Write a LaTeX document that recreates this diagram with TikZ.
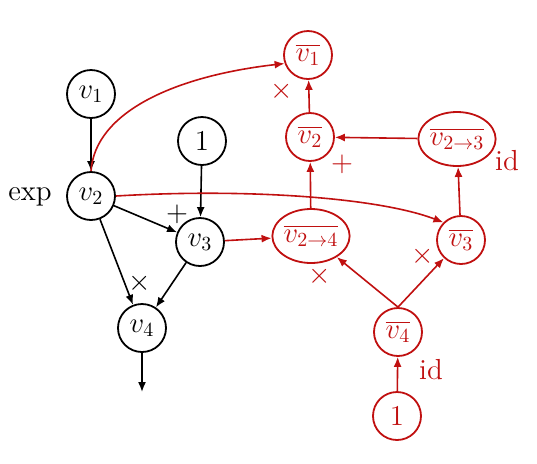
\documentclass[tikz,border=0pt]{standalone}
\usetikzlibrary{arrows.meta,shapes.geometric}
\definecolor{adjred}{RGB}{192,16,16}
\begin{document}
\begin{tikzpicture}[x=0.5pt,y=-0.5pt,
  font=\fontsize{14.5}{17}\selectfont,
  var/.style={circle,draw,line width=0.9pt,minimum size=24pt,inner sep=0pt},
  rvar/.style={var,draw=adjred,text=adjred},
  rell/.style={ellipse,draw=adjred,text=adjred,line width=0.9pt,minimum width=33pt,minimum height=27pt,inner sep=0pt},
  edge/.style={line width=0.8pt,-{Latex[length=5pt,width=4pt]}},
  redge/.style={edge,draw=adjred},
  lab/.style={inner sep=0pt},
  rlab/.style={lab,text=adjred}]
\useasboundingbox (0,0) rectangle (537,463);
% forward graph
\node[var] (v1) at (91,94) {$v_1$};
\node[var] (v2) at (91,196) {$v_2$};
\node[var] (one) at (202,141) {$1$};
\node[var] (v3) at (200,242) {$v_3$};
\node[var] (v4) at (142,328) {$v_4$};
\coordinate (out) at (142,392);
\node[lab] (lexp) at (30,197) {exp};
\node[lab] (lplus) at (177,214) {$+$};
\node[lab] (ltimes) at (140,283) {$\times$};
\draw[edge] (v1) -- (v2);
\draw[edge] (one) -- (v3);
\draw[edge] (v2) -- (v3);
\draw[edge] (v2) -- (v4);
\draw[edge] (v3) -- (v4);
\draw[edge] (v4) -- (out);
% adjoint graph
\node[rvar] (b1) at (308,55) {$\overline{v_1}$};
\node[rvar] (b2) at (310,137) {$\overline{v_2}$};
\node[rell] (b23) at (457,139) {$\overline{v_{2\to3}}$};
\node[rell] (b24) at (311,236) {$\overline{v_{2\to4}}$};
\node[rvar] (b3) at (461,240) {$\overline{v_3}$};
\node[rvar] (b4) at (398,332) {$\overline{v_4}$};
\node[rvar] (rone) at (397,416) {$1$};
\node[rlab] (rt1) at (282,91) {$\times$};
\node[rlab] (rplus) at (342,164) {$+$};
\node[rlab] (rid1) at (507,161) {id};
\node[rlab] (rt2) at (320,276) {$\times$};
\node[rlab] (rt3) at (423,256) {$\times$};
\node[rlab] (rid2) at (431,370) {id};
\draw[redge] (b2) -- (b1);
\draw[redge] (b23) -- (b2);
\draw[redge] (b24) -- (b2);
\draw[redge] (b3) -- (b23);
\draw[redge] (b4.north) -- (b24);
\draw[redge] (b4.north) -- (b3);
\draw[redge] (rone) -- (b4);
\draw[redge] (v3) -- (b24);
\draw[redge] (v2.north) .. controls (95,112) and (175,76) .. (b1.200);
\draw[redge] (v2.east) .. controls (250,188) and (380,198) .. (b3.north west);
\end{tikzpicture}
\end{document}
